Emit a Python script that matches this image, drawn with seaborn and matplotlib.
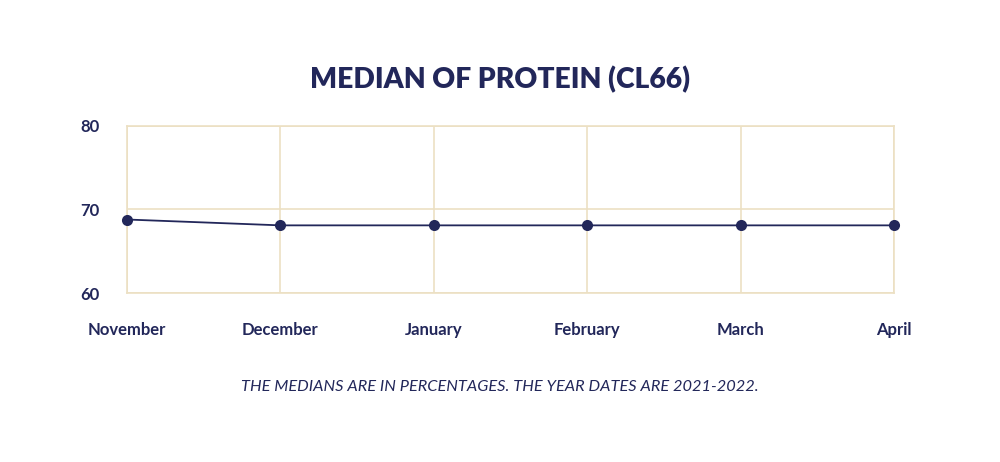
import matplotlib
matplotlib.use("Agg")
import matplotlib.pyplot as plt
import seaborn as sns
import pandas as pd

months = ["November", "December", "January", "February", "March", "April"]
median_protein = [68.8, 68.1, 68.1, 68.1, 68.1, 68.1]
y_ticks = [60, 70, 80]
title = "MEDIAN OF PROTEIN (CL66)"
note = "THE MEDIANS ARE IN PERCENTAGES. THE YEAR DATES ARE 2021-2022."

navy = "#22275a"
grid = "#ece0c3"

sns.set_theme(style="white")
plt.rcParams["font.family"] = ["Lato", "DejaVu Sans"]

df = pd.DataFrame({"month": months, "value": median_protein})

fig = plt.figure(figsize=(10, 4.62), dpi=100)
ax = fig.add_axes([0.127, 0.3658, 0.767, 0.3615])
sns.lineplot(data=df, x="month", y="value", ax=ax, color=navy, linewidth=1.3,
             marker="o", markersize=8, markeredgewidth=0, sort=False, zorder=10)

ax.set_ylim(60, 80)
ax.set_xlim(-0.0, len(months) - 1)
ax.set_yticks(y_ticks)
ax.set_xlabel("")
ax.set_ylabel("")
ax.grid(True, color=grid, linewidth=1.2)
ax.set_axisbelow(True)
for s in ax.spines.values():
    s.set_color(grid)
    s.set_linewidth(1.2)
    s.set_zorder(1)
for line in ax.lines:
    line.set_clip_on(False)
    line.set_zorder(10)
ax.tick_params(axis="x", length=0, pad=21, labelsize=12, labelcolor=navy)
ax.tick_params(axis="y", length=0, pad=20, labelsize=12, labelcolor=navy)
for lbl in ax.get_xticklabels() + ax.get_yticklabels():
    lbl.set_fontweight("bold")

fig.text(0.5, 0.828, title, ha="center", va="center", fontsize=20.3,
         fontweight="heavy", color=navy)
fig.text(0.5, 0.162, note, ha="center", va="center", fontsize=11.8,
         style="italic", color=navy)

fig.savefig("out.png", dpi=100, facecolor="white")
